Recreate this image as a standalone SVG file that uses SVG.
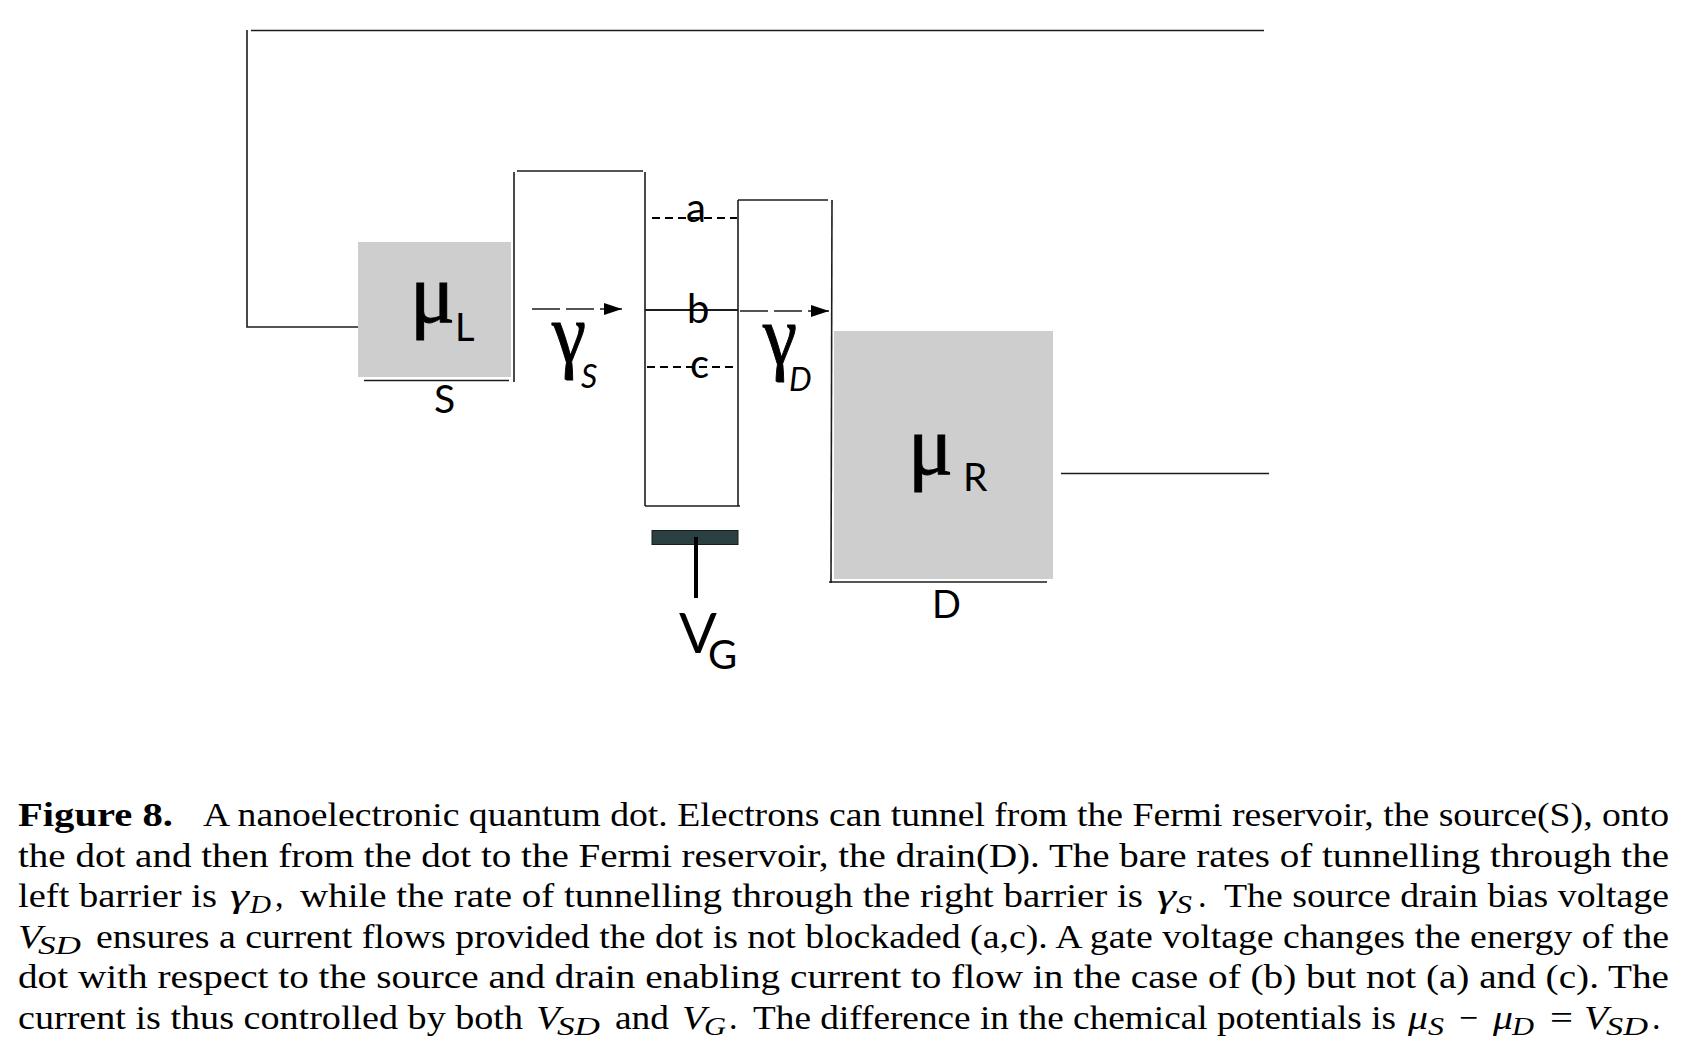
<svg xmlns="http://www.w3.org/2000/svg" width="1690" height="1052" viewBox="0 0 1690 1052">
<style>
.w{fill:none;stroke:#1c1c1c;stroke-width:1.6}
.lv{fill:none;stroke:#000;stroke-width:1.8;stroke-dasharray:8 5}
.ar{fill:none;stroke:#1c1c1c;stroke-width:1.5;stroke-dasharray:28 6}
.box{fill:#cecece}
.t{font-family:"Lato","Liberation Sans",sans-serif;fill:#000}
.g{font-family:"Liberation Serif","DejaVu Serif",serif;fill:#000;stroke:#000;stroke-width:1}
.sb{font-family:"Lato","Liberation Sans",sans-serif;font-style:italic;font-size:32px;stroke:none}
.c{font-family:"Liberation Serif",serif;font-size:34px;fill:#000}
.b{font-weight:bold}
.i{font-style:italic}
.s{font-style:italic;font-size:26px}
</style>
<defs><marker id="h" markerUnits="userSpaceOnUse" markerWidth="19" markerHeight="14" refX="18" refY="7" orient="auto"><path d="M0 1L18 7L0 13Z" fill="#000"/></marker></defs>
<g id="connectors">
<path class="w" d="M251 30.5H1264"/>
<path class="w" d="M247 30V327H359"/>
<path class="w" d="M364 380.5H509"/>
<path class="w" d="M514 172V382"/>
<path class="w" d="M517 171H643"/>
<path class="w" d="M645 172V506"/>
<path class="w" d="M645 506H740"/>
<path class="w" d="M738 200V506"/>
<path class="w" d="M738 200H828"/>
<path class="w" d="M832 200L831 583"/>
<path class="w" d="M829 582H1047"/>
<path class="w" d="M1061 473.5H1269"/>
<path class="lv" d="M652 218H737"/>
<path class="w" style="stroke-width:2.2" d="M645 310H738"/>
<path class="lv" d="M647 367H735"/>
<path class="ar" marker-end="url(#h)" d="M532 309H622"/>
<path class="ar" marker-end="url(#h)" d="M740 311H829"/>
</g>
<g id="source"><rect class="box" x="358" y="242" width="153" height="135"/>
<text class="g" x="410" y="322" font-size="84">μ</text><text class="t" x="455" y="341" font-size="38">L</text>
<text class="t" x="434" y="413" font-size="39">S</text></g>
<g id="gamma-s"><text class="g" font-size="84"><tspan x="552" y="362" textLength="34" lengthAdjust="spacingAndGlyphs">γ</tspan><tspan class="sb" x="581" y="388">S</tspan></text></g>
<g id="gamma-d"><text class="g" font-size="84"><tspan x="763" y="364" textLength="34" lengthAdjust="spacingAndGlyphs">γ</tspan><tspan class="sb" x="789" y="391">D</tspan></text></g>
<g id="levels"><text class="t" x="686" y="222" font-size="40">a</text><text class="t" x="687" y="323" font-size="40">b</text><text class="t" x="690" y="378" font-size="40">c</text></g>
<g id="drain"><rect class="box" x="834" y="331" width="219" height="248"/>
<text class="g" x="908" y="474" font-size="84">μ</text><text class="t" x="963" y="491" font-size="39">R</text>
<text class="t" x="932" y="618" font-size="38">D</text></g>
<g id="gate"><rect x="652" y="530.5" width="86" height="14" fill="#2b4040" stroke="#1c1c1c"/><path d="M696 537V598" stroke="#000" stroke-width="4" fill="none"/>
<text class="t" font-size="56"><tspan x="679" y="653">V</tspan><tspan x="708" y="669" font-size="40">G</tspan></text></g>
<g id="caption">
<text class="c b" x="18" y="826" textLength="155" lengthAdjust="spacingAndGlyphs">Figure 8.</text>
<text class="c" x="203" y="826" textLength="1466" lengthAdjust="spacingAndGlyphs">A nanoelectronic quantum dot. Electrons can tunnel from the Fermi reservoir, the source(S), onto</text>
<text class="c" x="18" y="867" textLength="1651" lengthAdjust="spacingAndGlyphs">the dot and then from the dot to the Fermi reservoir, the drain(D). The bare rates of tunnelling through the</text>
<text class="c" x="18" y="907" textLength="199" lengthAdjust="spacingAndGlyphs">left barrier is</text>
<text class="c i" x="230" y="907" textLength="19" lengthAdjust="spacingAndGlyphs">γ</text><text class="c s" x="250" y="913" textLength="21" lengthAdjust="spacingAndGlyphs">D</text><text class="c" x="275" y="907">,</text>
<text class="c" x="300" y="907" textLength="843" lengthAdjust="spacingAndGlyphs">while the rate of tunnelling through the right barrier is</text>
<text class="c i" x="1157" y="907" textLength="19" lengthAdjust="spacingAndGlyphs">γ</text><text class="c s" x="1176" y="913" textLength="16" lengthAdjust="spacingAndGlyphs">S</text><text class="c" x="1198" y="907">.</text>
<text class="c" x="1224" y="907" textLength="445" lengthAdjust="spacingAndGlyphs">The source drain bias voltage</text>
<text class="c i" x="18" y="948" textLength="24" lengthAdjust="spacingAndGlyphs">V</text><text class="c s" x="38" y="954" textLength="43" lengthAdjust="spacingAndGlyphs">SD</text>
<text class="c" x="96" y="948" textLength="1573" lengthAdjust="spacingAndGlyphs">ensures a current flows provided the dot is not blockaded (a,c). A gate voltage changes the energy of the</text>
<text class="c" x="18" y="988" textLength="1651" lengthAdjust="spacingAndGlyphs">dot with respect to the source and drain enabling current to flow in the case of (b) but not (a) and (c). The</text>
<text class="c" x="18" y="1029" textLength="505" lengthAdjust="spacingAndGlyphs">current is thus controlled by both</text>
<text class="c i" x="536" y="1029" textLength="24" lengthAdjust="spacingAndGlyphs">V</text><text class="c s" x="557" y="1035" textLength="43" lengthAdjust="spacingAndGlyphs">SD</text>
<text class="c" x="615" y="1029" textLength="54" lengthAdjust="spacingAndGlyphs">and</text>
<text class="c i" x="682" y="1029" textLength="24" lengthAdjust="spacingAndGlyphs">V</text><text class="c s" x="704" y="1035" textLength="22" lengthAdjust="spacingAndGlyphs">G</text><text class="c" x="729" y="1029">.</text>
<text class="c" x="753" y="1029" textLength="643" lengthAdjust="spacingAndGlyphs">The difference in the chemical potentials is</text>
<text class="c i" x="1408" y="1029" textLength="20" lengthAdjust="spacingAndGlyphs">μ</text><text class="c s" x="1428" y="1035" textLength="16" lengthAdjust="spacingAndGlyphs">S</text><text class="c" x="1459" y="1029" textLength="19" lengthAdjust="spacingAndGlyphs">−</text>
<text class="c i" x="1493" y="1029" textLength="20" lengthAdjust="spacingAndGlyphs">μ</text><text class="c s" x="1512" y="1035" textLength="22" lengthAdjust="spacingAndGlyphs">D</text><text class="c" x="1550" y="1029" textLength="23" lengthAdjust="spacingAndGlyphs">=</text>
<text class="c i" x="1584" y="1029" textLength="24" lengthAdjust="spacingAndGlyphs">V</text><text class="c s" x="1606" y="1035" textLength="42" lengthAdjust="spacingAndGlyphs">SD</text><text class="c" x="1652" y="1029">.</text>
</g>
</svg>
